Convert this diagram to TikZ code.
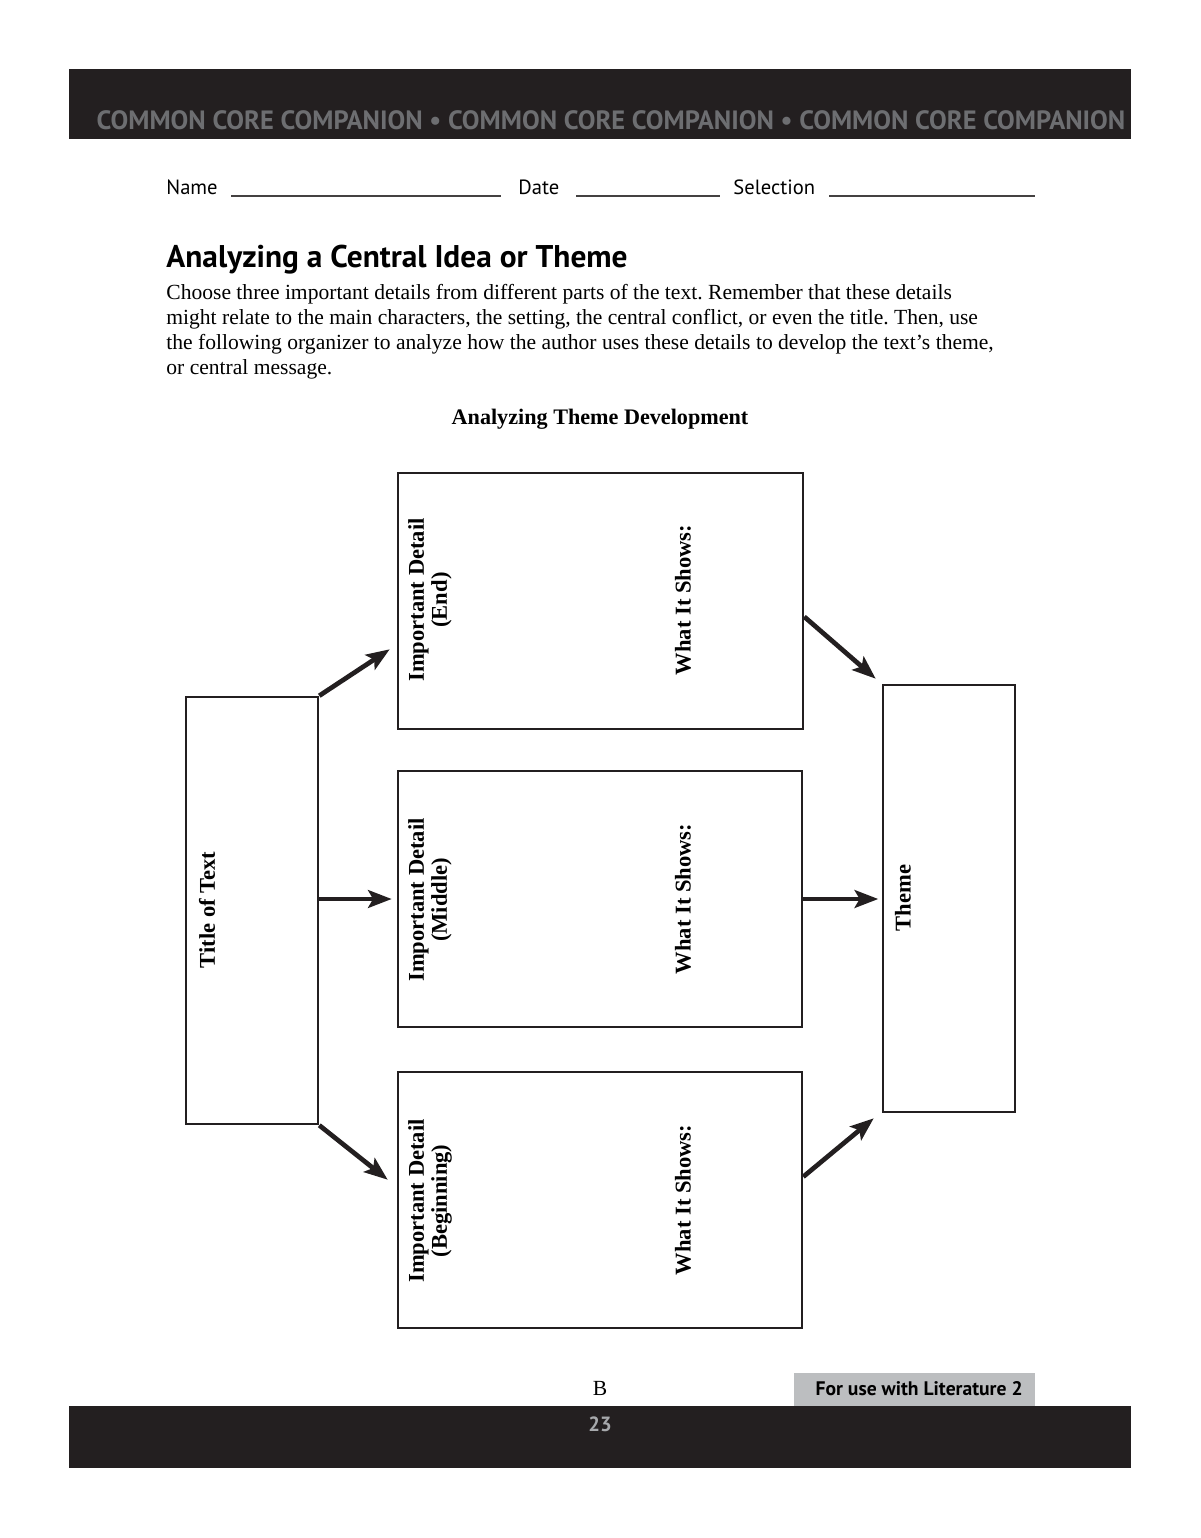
\documentclass[tikz,border=0pt]{standalone}
\usepackage{fontspec}
\setmainfont{Liberation Serif}
\setsansfont{PT Sans}
\usetikzlibrary{arrows.meta, fit, calc}

\definecolor{barblack}{HTML}{231F20}
\definecolor{bargray}{HTML}{6D6E71}
\definecolor{numgray}{HTML}{A7A9AC}
\definecolor{tabgray}{HTML}{BCBEC0}
\frenchspacing

\begin{document}
\begin{tikzpicture}[
    x=0.51pt, y=-0.51pt,
    >={Stealth[length=12pt, width=9pt, inset=2.5pt]}, % heavy arrow heads
    box/.style={draw=barblack, line width=1.3pt, inner sep=0pt},
    arr/.style={->, draw=barblack, line width=2.4pt},
    lbl/.style={rotate=90, align=center, inner sep=0pt,
        font=\bfseries\fontsize{11.5}{11.8}\selectfont},
    field/.style={anchor=base west, inner sep=0pt,
        font=\sffamily\fontsize{10.5}{12}\selectfont},
    rule/.style={line width=0.6pt, draw=barblack!85}
]
\useasboundingbox (0,0) rectangle (1200,1538);

% Header bar
\fill[barblack] (69,69) rectangle (1131,139);
\node[anchor=base, inner sep=0pt, text=bargray,
    font=\sffamily\bfseries\fontsize{13.5}{15}\selectfont] (head) at (611,130)
    {COMMON CORE COMPANION • COMMON CORE COMPANION • COMMON CORE COMPANION};

% Name / Date / Selection
\node[field] (name) at (166,194) {Name};
\draw[rule] (231,196) -- (501,196);
\node[field] (date) at (518,194) {Date};
\draw[rule] (576,196) -- (720,196);
\node[field] (sel) at (733,194) {Selection};
\draw[rule] (829,196) -- (1035,196);

% Title and directions
\node[anchor=base west, inner sep=0pt,
    font=\sffamily\bfseries\fontsize{16}{19}\selectfont] (title) at (166,267)
    {Analyzing a Central Idea or Theme};
\node[anchor=north west, inner sep=0pt, align=left,
    font=\fontsize{11}{12.75}\selectfont] (intro) at (166,284)
    {Choose three important details from different parts of the text. Remember that these details\\
     might relate to the main characters, the setting, the central conflict, or even the title. Then, use\\
     the following organizer to analyze how the author uses these details to develop the text’s theme,\\
     or central message.};
\node[anchor=base, inner sep=0pt, font=\bfseries\fontsize{11.3}{13}\selectfont]
    (orgtitle) at (600,424) {Analyzing Theme Development};

% Organizer boxes
\node[box, fit={(186,697) (318,1124)}] (ttl) {};
\node[box, fit={(398,473) (803,729)}] (endbox) {};
\node[box, fit={(398,771) (802,1027)}] (midbox) {};
\node[box, fit={(398,1072) (802,1328)}] (begbox) {};
\node[box, fit={(883,685) (1015,1112)}] (theme) {};

% Box labels
\node[lbl] (ttllbl) at (207,910) {Title of Text};
\node[lbl] (endlbl) at (430,600) {Important Detail\\(End)};
\node[lbl] (endshow) at (683,600) {What It Shows:};
\node[lbl] (midlbl) at (430,900) {Important Detail\\(Middle)};
\node[lbl] (midshow) at (683,899) {What It Shows:};
\node[lbl] (beglbl) at (430,1201) {Important Detail\\(Beginning)};
\node[lbl] (begshow) at (683,1200) {What It Shows:};
\node[lbl] (themelbl) at (903,898) {Theme};

% Arrows
\draw[arr] (ttl.north east) -- ($(endbox.south west)+(-7,-81)$);
\draw[arr] (ttl.east |- midbox.west) -- ($(midbox.west)+(-5,0)$);
\draw[arr] (ttl.south east) -- ($(begbox.north west)+(-9,109)$);
\draw[arr] ($(endbox.north east)+(0,145)$) -- ($(theme.north west)+(-6,-5)$);
\draw[arr] (midbox.east) -- ($(midbox.east)+(75,0)$);
\draw[arr] ($(begbox.north east)+(0,106)$) -- ($(theme.south west)+(-8,5)$);

% Footer
\node[anchor=base, inner sep=0pt, font=\fontsize{11}{13}\selectfont] (form) at (600,1395) {B};
\fill[tabgray] (794,1373) rectangle (1035,1406);
\node[anchor=base east, inner sep=0pt,
    font=\sffamily\bfseries\fontsize{10}{12}\selectfont] (usewith) at (1023,1395)
    {For use with Literature 2};
\fill[barblack] (69,1406) rectangle (1131,1468);
\node[anchor=base, inner sep=0pt, text=numgray,
    font=\sffamily\bfseries\fontsize{10.5}{12}\selectfont] (page) at (600,1431) {23};
\end{tikzpicture}
\end{document}
